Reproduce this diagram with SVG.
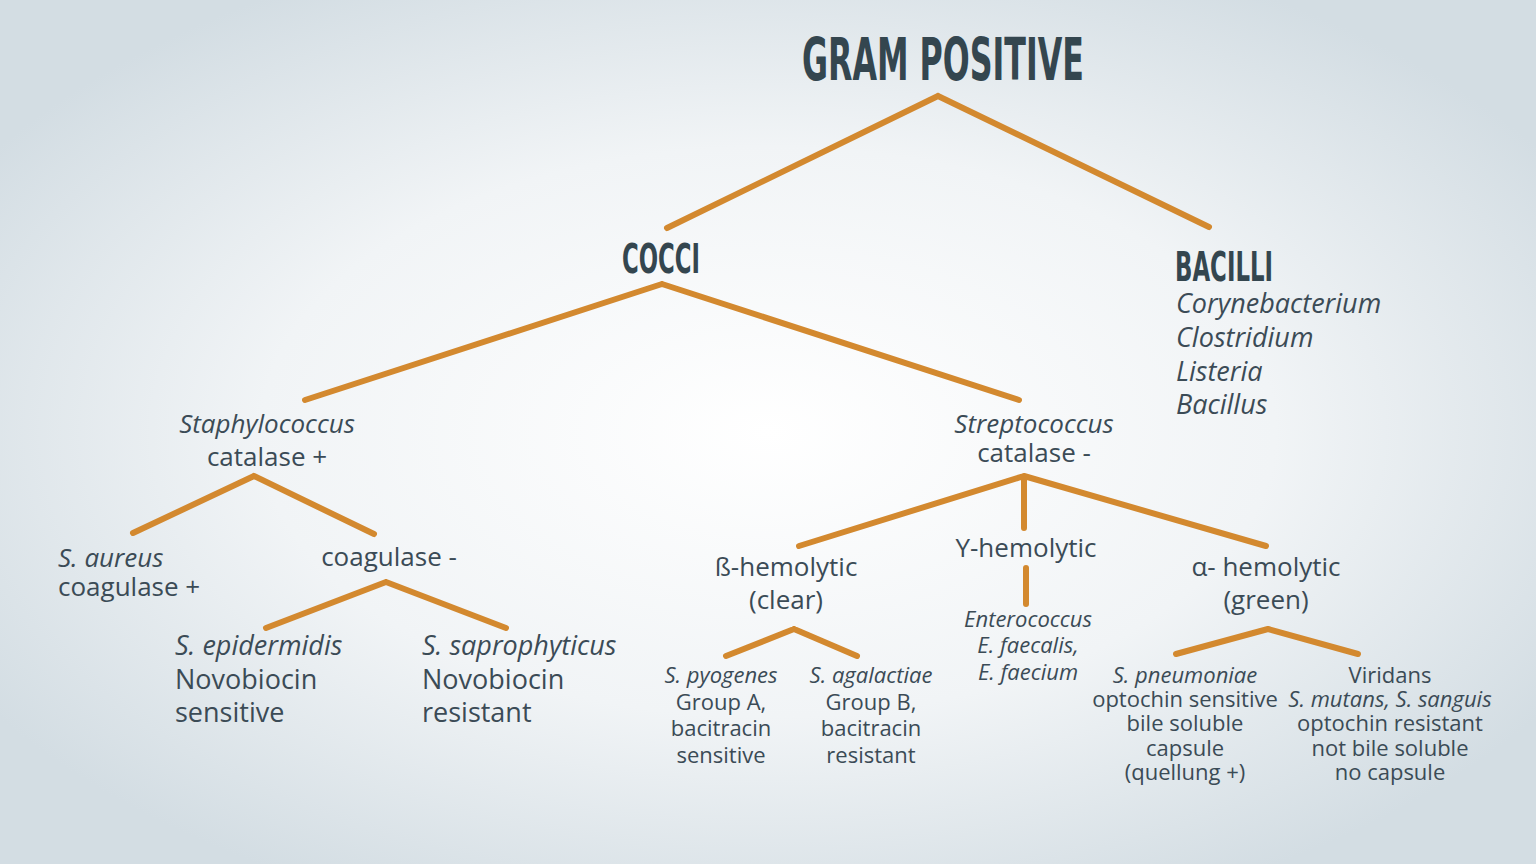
<svg xmlns="http://www.w3.org/2000/svg" width="1536" height="864" viewBox="0 0 1536 864">
<defs>
<radialGradient id="bg" cx="50%" cy="50%" r="60%">
<stop offset="0" stop-color="#ffffff"/><stop offset="0.55" stop-color="#f1f4f6"/><stop offset="1" stop-color="#d3dde3"/>
</radialGradient>
<style>
.h{font-family:"DejaVu Sans Condensed","DejaVu Sans",sans-serif;font-weight:bold;font-stretch:condensed;fill:#34464f}
.t{font-family:"Open Sans","DejaVu Sans",sans-serif;fill:#3b4b56}
.i{font-style:italic}
.c{text-anchor:middle}
.l{stroke:#d3892f;stroke-width:6;stroke-linecap:round;fill:none}
</style>
</defs>
<rect width="1536" height="864" fill="url(#bg)"/>
<g id="connectors" class="l">
<path d="M938,96L667,228M938,96L1209,227"/>
<path d="M662,284L305,400M662,284L1019,400"/>
<path d="M254,476L133,533M254,476L374,534"/>
<path d="M386,582L266,628M386,582L506,628"/>
<path d="M1024,476L799,546M1024,476L1024,528M1024,476L1266,546"/>
<path d="M1026,568L1026,604"/>
<path d="M794,629L726,656M794,629L857,656"/>
<path d="M1268,629L1176,654M1268,629L1358,654"/>
</g>
<g id="gram"><text class="h" x="802" y="80" font-size="58" textLength="282" lengthAdjust="spacingAndGlyphs">GRAM POSITIVE</text></g>
<g id="cocci"><text class="h" x="622" y="273" font-size="40" textLength="78" lengthAdjust="spacingAndGlyphs">COCCI</text></g>
<g id="bacilli"><text class="h" x="1175" y="281" font-size="40" textLength="98" lengthAdjust="spacingAndGlyphs">BACILLI</text>
<g class="t i" font-size="27"><text x="1176" y="313">Corynebacterium</text><text x="1176" y="347">Clostridium</text><text x="1176" y="381">Listeria</text><text x="1176" y="414">Bacillus</text></g></g>
<g id="staph" class="t c" font-size="26"><text class="i" x="267" y="433">Staphylococcus</text><text x="267" y="466">catalase +</text></g>
<g id="aureus" class="t" font-size="26"><text class="i" x="58" y="567">S. aureus</text><text x="58" y="596">coagulase +</text></g>
<g id="coagneg" class="t c" font-size="26"><text x="389" y="566">coagulase -</text></g>
<g id="epi" class="t" font-size="27"><text class="i" x="175" y="655">S. epidermidis</text><text x="175" y="689">Novobiocin</text><text x="175" y="722">sensitive</text></g>
<g id="sapro" class="t" font-size="27"><text class="i" x="422" y="655">S. saprophyticus</text><text x="422" y="689">Novobiocin</text><text x="422" y="722">resistant</text></g>
<g id="strep" class="t c" font-size="26"><text class="i" x="1034" y="433">Streptococcus</text><text x="1034" y="462">catalase -</text></g>
<g id="beta" class="t c" font-size="26"><text x="786" y="576">ß-hemolytic</text><text x="786" y="609">(clear)</text></g>
<g id="gamma" class="t c" font-size="26"><text x="1026" y="557">Y-hemolytic</text></g>
<g id="entero" class="t c i" font-size="22"><text x="1028" y="627">Enterococcus</text><text x="1028" y="653">E. faecalis,</text><text x="1028" y="680">E. faecium</text></g>
<g id="alpha" class="t c" font-size="26"><text x="1266" y="576">α- hemolytic</text><text x="1266" y="609">(green)</text></g>
<g id="pyo" class="t c" font-size="22"><text class="i" x="721" y="683">S. pyogenes</text><text x="721" y="710">Group A,</text><text x="721" y="736">bacitracin</text><text x="721" y="763">sensitive</text></g>
<g id="aga" class="t c" font-size="22"><text class="i" x="871" y="683">S. agalactiae</text><text x="871" y="710">Group B,</text><text x="871" y="736">bacitracin</text><text x="871" y="763">resistant</text></g>
<g id="pneumo" class="t c" font-size="22"><text class="i" x="1185" y="683">S. pneumoniae</text><text x="1185" y="707">optochin sensitive</text><text x="1185" y="731">bile soluble</text><text x="1185" y="756">capsule</text><text x="1185" y="780">(quellung +)</text></g>
<g id="viridans" class="t c" font-size="22"><text x="1390" y="683">Viridans</text><text class="i" x="1390" y="707">S. mutans, S. sanguis</text><text x="1390" y="731">optochin resistant</text><text x="1390" y="756">not bile soluble</text><text x="1390" y="780">no capsule</text></g>
</svg>
